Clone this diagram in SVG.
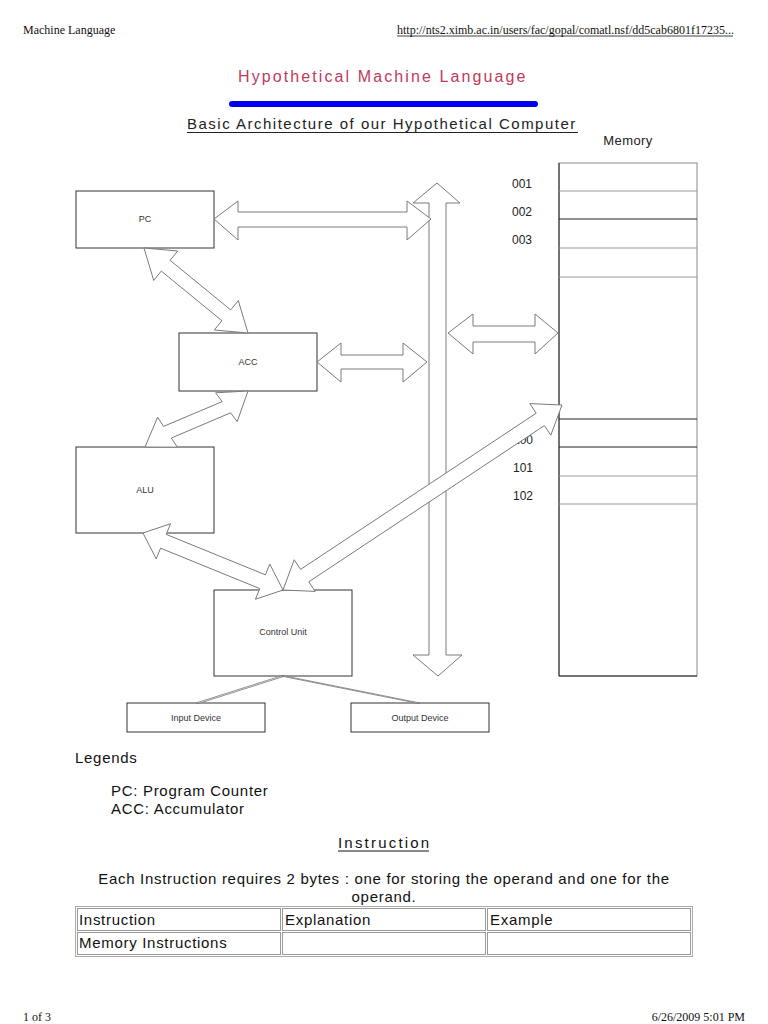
<svg xmlns="http://www.w3.org/2000/svg" width="768" height="1024" viewBox="0 0 768 1024">
<style>
.hdr{font-family:"Liberation Serif",serif;font-size:12px;fill:#111}
.box{fill:#fff;stroke:#333;stroke-width:1}
.lbl{font-family:"Liberation Sans",sans-serif;font-size:9px;fill:#333;text-anchor:middle}
.arr{fill:#fff;stroke:#7a7a7a;stroke-width:1;stroke-linejoin:miter}
.mem{font-family:"Liberation Sans",sans-serif;font-size:12px;fill:#222}
.body{font-family:"Liberation Sans",sans-serif;font-size:15px;fill:#111;letter-spacing:0.7px}
.cell{fill:none;stroke:#999;stroke-width:1}
.ml{stroke:#999;stroke-width:1}
.md{stroke:#222;stroke-width:1}
</style>
<rect width="768" height="1024" fill="#fff"/>

<!-- header -->
<text class="hdr" x="23" y="34">Machine Language</text>
<text class="hdr" x="397" y="34">http://nts2.ximb.ac.in/users/fac/gopal/comatl.nsf/dd5cab6801f17235...</text>
<line x1="397" y1="36" x2="733" y2="36" stroke="#111" stroke-width="0.8"/>

<!-- title -->
<text x="238" y="82" font-family="Liberation Sans, sans-serif" font-size="16" fill="#c0395e" letter-spacing="2.1">Hypothetical Machine Language</text>
<line x1="232" y1="104" x2="535" y2="104" stroke="#0000ee" stroke-width="6" stroke-linecap="round"/>
<text x="187" y="129" font-family="Liberation Sans, sans-serif" font-size="15" fill="#222" letter-spacing="1.5">Basic Architecture of our Hypothetical Computer</text>
<line x1="187" y1="132.5" x2="578" y2="132.5" stroke="#222" stroke-width="1"/>

<!-- nodes -->
<g id="pc"><rect class="box" x="76" y="191" width="138" height="57"/><text class="lbl" x="145" y="222">PC</text></g>
<g id="acc"><rect class="box" x="179" y="333" width="138" height="58"/><text class="lbl" x="248" y="365">ACC</text></g>
<g id="alu"><rect class="box" x="76" y="447" width="138" height="86"/><text class="lbl" x="145" y="493">ALU</text></g>
<g id="control-unit"><rect class="box" x="214" y="590" width="138" height="86"/><text class="lbl" x="283" y="635">Control Unit</text></g>
<g id="input-device"><rect class="box" x="127" y="703" width="138" height="29"/><text class="lbl" x="196" y="721">Input Device</text></g>
<g id="output-device"><rect class="box" x="351" y="703" width="138" height="29"/><text class="lbl" x="420" y="721">Output Device</text></g>

<g id="memory">
<text x="628" y="145" font-family="Liberation Sans, sans-serif" font-size="13" fill="#222" text-anchor="middle" letter-spacing="0.4">Memory</text>
<rect x="559" y="163" width="138" height="513" fill="#fff" stroke="#888"/>
<line class="md" x1="559" y1="163" x2="559" y2="676"/>
<line class="md" x1="559" y1="676" x2="697" y2="676"/>
<line class="ml" x1="559" y1="191" x2="697" y2="191"/>
<line class="md" x1="559" y1="219" x2="697" y2="219"/>
<line class="ml" x1="559" y1="248" x2="697" y2="248"/>
<line class="ml" x1="559" y1="277" x2="697" y2="277"/>
<line class="md" x1="559" y1="419" x2="697" y2="419"/>
<line class="md" x1="559" y1="447" x2="697" y2="447"/>
<line class="ml" x1="559" y1="476" x2="697" y2="476"/>
<line class="ml" x1="559" y1="504" x2="697" y2="504"/>
<text class="mem" x="512" y="188">001</text>
<text class="mem" x="512" y="216">002</text>
<text class="mem" x="512" y="244">003</text>
<text class="mem" x="513" y="444">100</text>
<text class="mem" x="513" y="472">101</text>
<text class="mem" x="513" y="500">102</text>
</g>

<!-- connectors -->
<g id="connectors">
<polygon id="bus" class="arr" points="437,183 460,203 446,203 446,655 462,655 438,676 413,655 429,655 429,203 413,203"/>
<polygon id="pc-bus" class="arr" points="214,219 238,201 238,212 407,212 407,201 431,219 407,240 407,227 238,227 238,240"/>
<polygon id="acc-bus" class="arr" points="317,362 341,343 341,355 403,355 403,343 427,362 403,382 403,369 341,369 341,382"/>
<polygon id="mem-bus" class="arr" points="448,333 473,314 473,326 535,326 535,314 558,333 535,354 535,342 473,342 473,354"/>
<polygon id="pc-acc" class="arr" points="144,248 153.7,280.4 161.3,271.1 221.9,320.7 214.3,330 248,333 238.3,300.6 230.7,309.9 170.1,260.3 177.7,251"/>
<polygon id="acc-alu" class="arr" points="248,391 215.6,392.8 222.2,401.6 163.6,426.4 157.6,417.2 145,447 177.4,447.2 171.4,438 230.6,412.8 237.2,421.6"/>
<polygon id="alu-cu" class="arr" points="143,533 156.2,558.9 160.6,548.2 259.8,588.6 255.4,599.3 283,590 269.8,564.1 265.4,574.8 166.2,534.4 170.6,523.7"/>
<polygon id="cu-mem" class="arr" points="283,590 315.2,591.4 308.8,581.8 544.4,425.6 550.8,435.2 562,405 529.8,403.6 536.2,413.2 300.6,569.4 294.2,559.8"/>
<polygon id="cu-in" fill="#fff" stroke="#777" stroke-width="0.8" points="281,676 285,676 200,703 196,703"/>
<polygon id="cu-out" fill="#fff" stroke="#777" stroke-width="0.8" points="281,676 285,676 420,703 416,703"/>
</g>

<!-- legends -->
<text class="body" x="75" y="763">Legends</text>
<text class="body" x="111" y="796">PC: Program Counter</text>
<text class="body" x="111" y="814">ACC: Accumulator</text>
<text class="body" x="338" y="848" style="letter-spacing:2.2px">Instruction</text>
<line x1="338" y1="851" x2="429" y2="851" stroke="#111" stroke-width="1"/>
<text class="body" x="384" y="884" text-anchor="middle">Each Instruction requires 2 bytes : one for storing the operand and one for the</text>
<text class="body" x="384" y="902" text-anchor="middle">operand.</text>

<!-- table -->
<g id="table">
<rect x="75.5" y="906.5" width="617" height="50" fill="none" stroke="#aaa"/>
<rect class="cell" x="77.5" y="908.5" width="203" height="22"/>
<rect class="cell" x="282.5" y="908.5" width="203" height="22"/>
<rect class="cell" x="487.5" y="908.5" width="203" height="22"/>
<rect class="cell" x="77.5" y="932.5" width="203" height="22"/>
<rect class="cell" x="282.5" y="932.5" width="203" height="22"/>
<rect class="cell" x="487.5" y="932.5" width="203" height="22"/>
<text class="body" x="79" y="925">Instruction</text>
<text class="body" x="285" y="925">Explanation</text>
<text class="body" x="490" y="925">Example</text>
<text class="body" x="79" y="948">Memory Instructions</text>
</g>

<!-- footer -->
<text class="hdr" x="23" y="1021">1 of 3</text>
<text class="hdr" x="745" y="1021" text-anchor="end">6/26/2009 5:01 PM</text>
</svg>
